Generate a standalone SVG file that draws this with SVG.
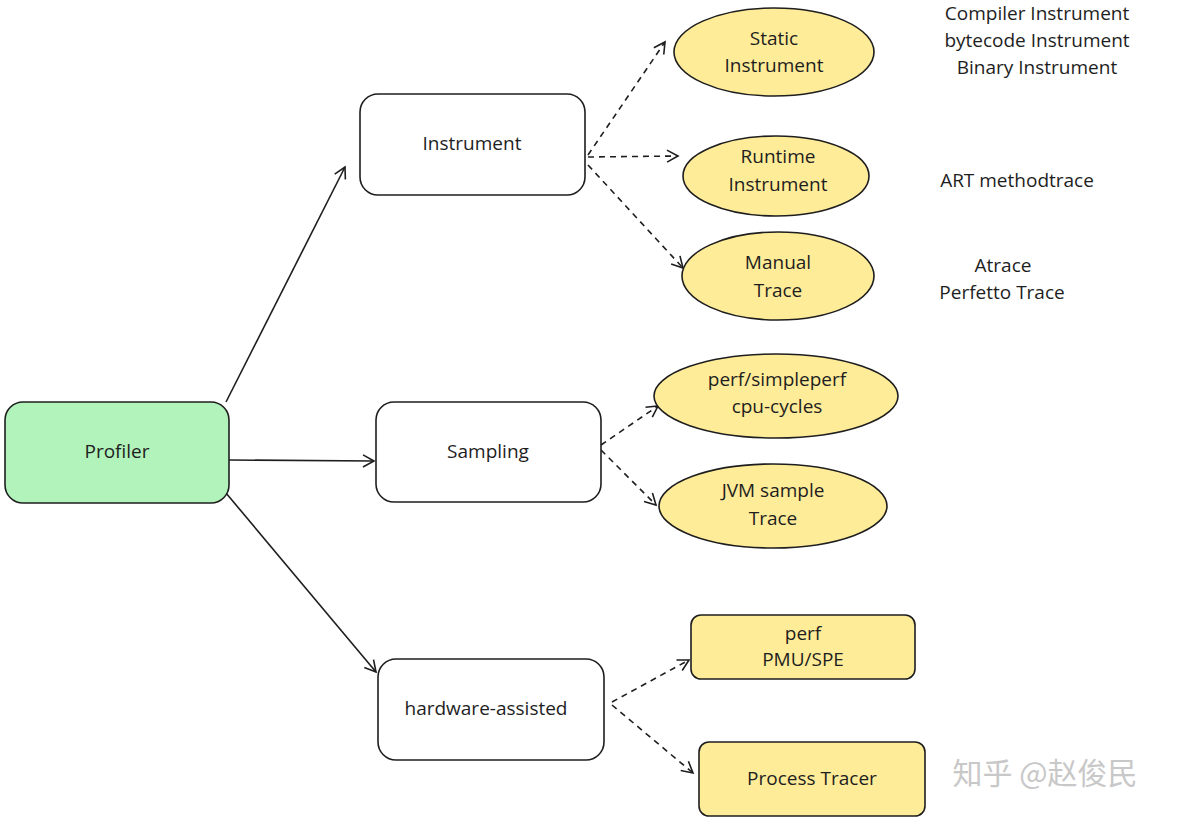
<svg xmlns="http://www.w3.org/2000/svg" width="1185" height="821" viewBox="0 0 1185 821">
<style>
.n{stroke:#1e1e1e;stroke-width:1.6}
.w{fill:#fff}.g{fill:#b2f2bb}.y{fill:#ffec99}
text{font-family:"Open Sans","Liberation Sans",sans-serif;font-size:19px;fill:#1e1e1e;text-anchor:middle}
.c line{stroke:#1e1e1e;stroke-width:1.6;fill:none}
.d{stroke-dasharray:6 5}
</style>
<defs><marker id="a" markerWidth="14" markerHeight="14" refX="12" refY="7" orient="auto" markerUnits="userSpaceOnUse"><path d="M1,1 L12,7 L1,13" fill="none" stroke="#1e1e1e" stroke-width="1.6"/></marker></defs>
<rect width="1185" height="821" fill="#fff"/>
<g class="c">
<line x1="226" y1="402" x2="345" y2="167" marker-end="url(#a)"/>
<line x1="229" y1="460" x2="374" y2="461" marker-end="url(#a)"/>
<line x1="226" y1="493" x2="376" y2="672" marker-end="url(#a)"/>
<line class="d" x1="588" y1="155" x2="665" y2="42" marker-end="url(#a)"/>
<line class="d" x1="588" y1="157" x2="678" y2="156" marker-end="url(#a)"/>
<line class="d" x1="588" y1="165" x2="683" y2="268" marker-end="url(#a)"/>
<line class="d" x1="601" y1="445" x2="658" y2="406" marker-end="url(#a)"/>
<line class="d" x1="601" y1="450" x2="656" y2="505" marker-end="url(#a)"/>
<line class="d" x1="612" y1="702" x2="689" y2="660" marker-end="url(#a)"/>
<line class="d" x1="612" y1="705" x2="693" y2="773" marker-end="url(#a)"/>
</g>
<g id="profiler"><rect class="n g" x="5" y="402" width="224" height="101" rx="18"/><text x="117" y="458">Profiler</text></g>
<g id="instrument"><rect class="n w" x="360" y="94" width="225" height="101" rx="18"/><text x="472" y="150">Instrument</text></g>
<g id="sampling"><rect class="n w" x="376" y="402" width="225" height="100" rx="18"/><text x="488" y="458">Sampling</text></g>
<g id="hardware"><rect class="n w" x="378" y="659" width="226" height="101" rx="18"/><text x="486" y="715">hardware-assisted</text></g>
<g id="static"><ellipse class="n y" cx="774" cy="52" rx="100" ry="44"/><text x="774" y="45">Static</text><text x="774" y="72">Instrument</text></g>
<g id="runtime"><ellipse class="n y" cx="776" cy="176" rx="93" ry="40"/><text x="778" y="163">Runtime</text><text x="778" y="191">Instrument</text></g>
<g id="manual"><ellipse class="n y" cx="778" cy="276" rx="96" ry="44"/><text x="778" y="269">Manual</text><text x="778" y="297">Trace</text></g>
<g id="perfsimple"><ellipse class="n y" cx="776" cy="396" rx="122" ry="42"/><text x="777" y="386">perf/simpleperf</text><text x="777" y="413">cpu-cycles</text></g>
<g id="jvm"><ellipse class="n y" cx="773" cy="506" rx="114" ry="42"/><text x="773" y="497">JVM sample</text><text x="773" y="525">Trace</text></g>
<g id="pmu"><rect class="n y" x="691" y="615" width="224" height="64" rx="10"/><text x="803" y="640">perf</text><text x="803" y="666">PMU/SPE</text></g>
<g id="ptracer"><rect class="n y" x="699" y="742" width="226" height="74" rx="10"/><text x="812" y="785">Process Tracer</text></g>
<g id="notes">
<text x="1037" y="20">Compiler Instrument</text>
<text x="1037" y="47">bytecode Instrument</text>
<text x="1037" y="74">Binary Instrument</text>
<text x="1017" y="187">ART methodtrace</text>
<text x="1003" y="272">Atrace</text>
<text x="1002" y="299">Perfetto Trace</text>
</g>
<text x="1045" y="784" style="font-family:'Noto Sans CJK SC',sans-serif;font-size:30px;fill:#c8c8c8">知乎 @赵俊民</text>
</svg>
